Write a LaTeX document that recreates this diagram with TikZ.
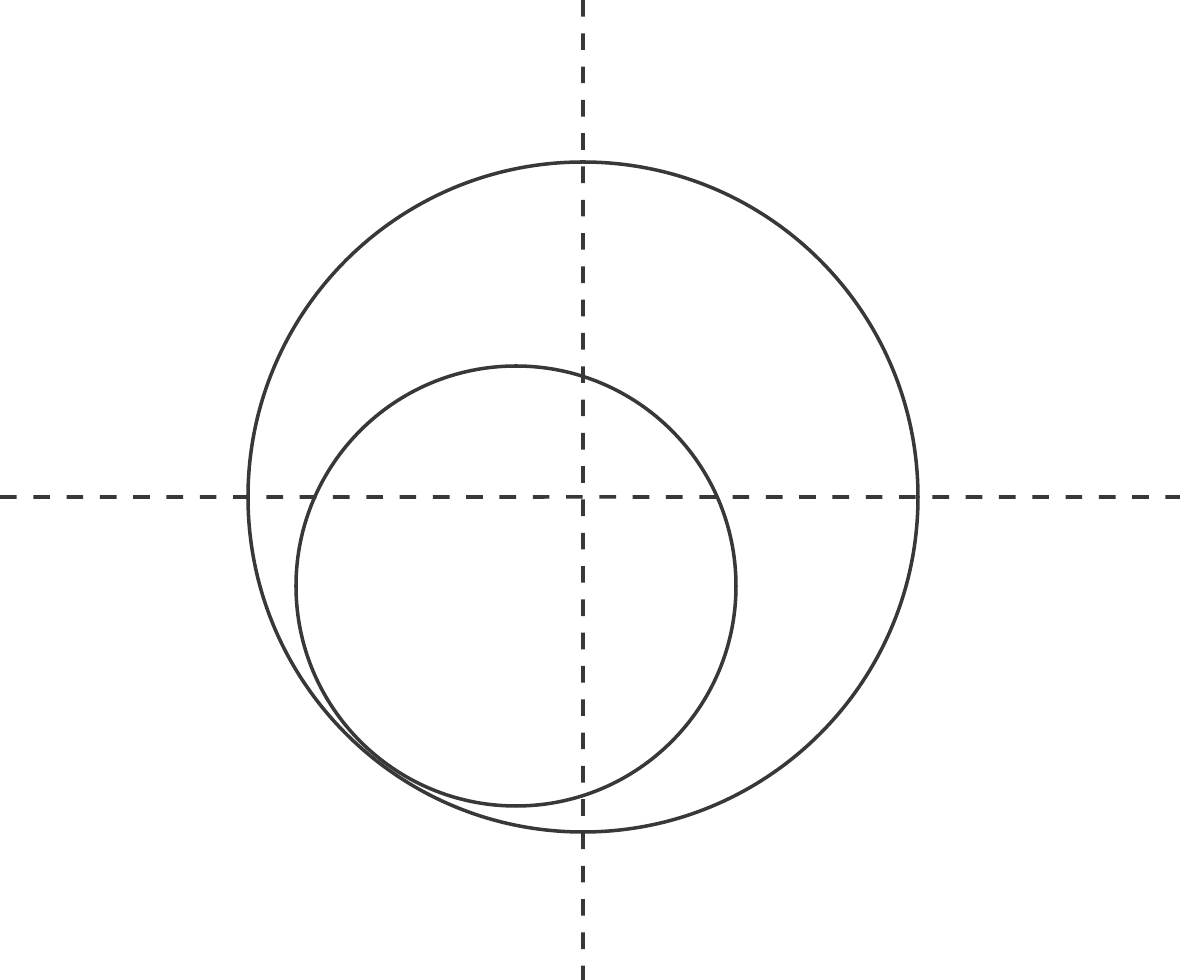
\documentclass[tikz,border=0pt]{standalone}
\usepackage{tikz}
\definecolor{linegray}{HTML}{383838}

\begin{document}
\begin{tikzpicture}[scale=0.2]
\tikzstyle{every path}+=[line width=2pt]
\tikzstyle{axisline}=[linegray, dash pattern=on 0.333cm off 0.333cm]
\useasboundingbox (0,0) rectangle (118,-98);
\coordinate (O) at (58.3,-49.7);
\coordinate (C) at (51.6,-58.6);
\draw [axisline] (0,-49.7) -- (O) -- (118,-49.7);
\draw [axisline] (58.3,0) -- (O) -- (58.3,-98);
\draw [linegray] (O) circle (33.5);
\draw [linegray] (C) circle (22);
\end{tikzpicture}
\end{document}
